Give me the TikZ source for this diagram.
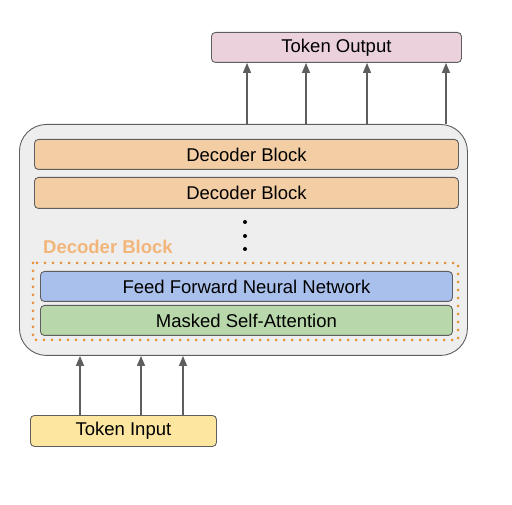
\documentclass[tikz,border=0pt]{standalone}
\usepackage{fontspec}
\setmainfont{Liberation Sans}
\usetikzlibrary{arrows.meta}
\definecolor{outfill}{HTML}{EAD1DC}
\definecolor{decfill}{HTML}{F3CDA4}
\definecolor{fffill}{HTML}{A9C0EC}
\definecolor{msafill}{HTML}{B8D7AA}
\definecolor{infill}{HTML}{FDE6A0}
\definecolor{stackfill}{HTML}{EEEEEE}
\definecolor{lbl}{HTML}{F2B57A}
\definecolor{dotcol}{HTML}{E69138}
\definecolor{edge}{HTML}{5E5E5E}
\begin{document}
\begin{tikzpicture}[x=1pt,y=-1pt,>={Triangle[length=10pt,width=8pt]},font=\fontsize{18.5}{22}\selectfont,
	box/.style={draw=edge,line width=0.9pt,rounded corners=4pt,inner sep=0pt,anchor=north west},
	arr/.style={->,line width=1.3pt,draw=edge,fill=edge}]
		\useasboundingbox (0,0) rectangle (512,505);
		% decoder stack
		\node[box,fill=stackfill,rounded corners=27pt,minimum width=448pt,minimum height=231pt] (stack) at (19,124) {};
		\node[box,fill=decfill,minimum width=424pt,minimum height=30pt] (dec1) at (34,139) {Decoder Block};
		\node[box,fill=decfill,minimum width=424pt,minimum height=31pt] (dec2) at (34,177) {Decoder Block};
		\foreach \y in {222,236,249}\fill (245,\y) circle(2pt);
		\node[anchor=west,inner sep=0pt,text=lbl,font=\fontsize{18.5}{22}\selectfont\bfseries] (lab) at (43,247) {Decoder Block};
		\draw[dotcol,line width=3pt,line cap=round,dash pattern=on 0pt off 8pt] (33,263) rectangle (458,340);
		\node[box,fill=fffill,minimum width=412pt,minimum height=30pt] (ffnn) at (40,271) {Feed Forward Neural Network};
		\node[box,fill=msafill,minimum width=412pt,minimum height=30pt] (msa) at (40,305) {Masked Self-Attention};
		% input and output
		\node[box,fill=outfill,minimum width=250pt,minimum height=30pt] (out) at (211,32) {Token Output};
		\node[box,fill=infill,minimum width=186pt,minimum height=31pt] (in) at (30,415) {Token Input};
		\foreach \x in {247,306,367,446}\draw[arr] (\x,0 |- stack.north) -- (\x,0 |- out.south);
		\foreach \x in {80,141,183}\draw[arr] (\x,0 |- in.north) -- (\x,0 |- stack.south);
\end{tikzpicture}
\end{document}
